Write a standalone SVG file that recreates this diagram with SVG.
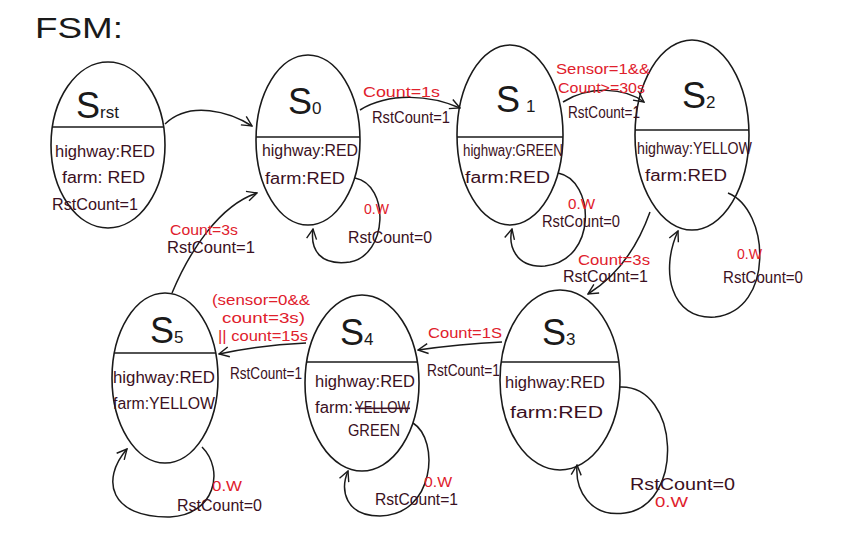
<svg xmlns="http://www.w3.org/2000/svg" width="844" height="534" viewBox="0 0 844 534">
<style>
.st{fill:none;stroke:#1a1a1a;stroke-width:1.6}
.cn{fill:none;stroke:#1a1a1a;stroke-width:1.5;marker-end:url(#ah)}
.nm{font-family:"Liberation Sans",sans-serif;fill:#1a1a1a}
.t{font-family:"Liberation Sans",sans-serif;font-size:16px;fill:#3a1022}
.r{font-family:"Liberation Sans",sans-serif;font-size:14px;fill:#e0202c}
.big{font-size:36px}
.sub{font-size:17px}
</style>
<defs>
<marker id="ah" viewBox="0 0 12 12" refX="11" refY="6" markerWidth="12" markerHeight="12" markerUnits="userSpaceOnUse" orient="auto">
<path d="M1,1 L11,6 L1,11" fill="none" stroke="#1a1a1a" stroke-width="1.4"/>
</marker>
</defs>
<rect width="844" height="534" fill="#ffffff"/>
<text x="35" y="38" class="nm" font-size="30" textLength="88" lengthAdjust="spacingAndGlyphs">FSM:</text>

<g id="Srst">
<ellipse cx="108" cy="145" rx="57" ry="83" class="st"/>
<line x1="52" y1="127" x2="164" y2="127" class="st"/>
<text x="76" y="118" class="nm"><tspan class="big">S</tspan><tspan class="sub">rst</tspan></text>
<text x="55" y="157" class="t" textLength="100" lengthAdjust="spacingAndGlyphs">highway:RED</text>
<text x="62" y="183" class="t" textLength="83" lengthAdjust="spacingAndGlyphs">farm: RED</text>
<text x="52" y="210" class="t" textLength="86" lengthAdjust="spacingAndGlyphs">RstCount=1</text>
</g>

<g id="S0">
<ellipse cx="308" cy="140" rx="52" ry="85" class="st"/>
<line x1="256" y1="137" x2="360" y2="137" class="st"/>
<text x="288" y="114" class="nm"><tspan class="big">S</tspan><tspan class="sub">0</tspan></text>
<text x="262" y="156" class="t" textLength="96" lengthAdjust="spacingAndGlyphs">highway:RED</text>
<text x="265" y="184" class="t" textLength="80" lengthAdjust="spacingAndGlyphs">farm:RED</text>
</g>

<g id="S1">
<ellipse cx="510" cy="135" rx="53" ry="90" class="st"/>
<line x1="457" y1="137" x2="563" y2="137" class="st"/>
<text x="496" y="112" class="nm"><tspan class="big">S</tspan><tspan class="sub" dx="6">1</tspan></text>
<text x="463" y="156" class="t" textLength="100" lengthAdjust="spacingAndGlyphs">highway:GREEN</text>
<text x="465" y="183" class="t" textLength="85" lengthAdjust="spacingAndGlyphs">farm:RED</text>
</g>

<g id="S2">
<ellipse cx="692" cy="135" rx="57" ry="95" class="st"/>
<line x1="635" y1="130" x2="749" y2="130" class="st"/>
<text x="682" y="108" class="nm"><tspan class="big">S</tspan><tspan class="sub">2</tspan></text>
<text x="637" y="154" class="t" textLength="115" lengthAdjust="spacingAndGlyphs">highway:YELLOW</text>
<text x="645" y="181" class="t" textLength="82" lengthAdjust="spacingAndGlyphs">farm:RED</text>
</g>

<g id="S3">
<ellipse cx="560" cy="380" rx="60" ry="90" class="st"/>
<line x1="501" y1="362" x2="619" y2="362" class="st"/>
<text x="542" y="345" class="nm"><tspan class="big">S</tspan><tspan class="sub">3</tspan></text>
<text x="505" y="388" class="t" textLength="100" lengthAdjust="spacingAndGlyphs">highway:RED</text>
<text x="510" y="418" class="t" textLength="93" lengthAdjust="spacingAndGlyphs">farm:RED</text>
</g>

<g id="S4">
<ellipse cx="362" cy="383" rx="57" ry="88" class="st"/>
<line x1="307" y1="362" x2="417" y2="362" class="st"/>
<text x="340" y="345" class="nm"><tspan class="big">S</tspan><tspan class="sub">4</tspan></text>
<text x="315" y="387" class="t" textLength="100" lengthAdjust="spacingAndGlyphs">highway:RED</text>
<text x="315" y="413" class="t" textLength="38" lengthAdjust="spacingAndGlyphs">farm:</text>
<text x="355" y="413" class="t" textLength="55" lengthAdjust="spacingAndGlyphs" text-decoration="line-through">YELLOW</text>
<text x="348" y="436" class="t" textLength="52" lengthAdjust="spacingAndGlyphs">GREEN</text>
</g>

<g id="S5">
<ellipse cx="165" cy="378" rx="53" ry="85" class="st"/>
<line x1="114" y1="353" x2="216" y2="353" class="st"/>
<text x="150" y="343" class="nm"><tspan class="big">S</tspan><tspan class="sub">5</tspan></text>
<text x="113" y="383" class="t" textLength="102" lengthAdjust="spacingAndGlyphs">highway:RED</text>
<text x="113" y="409" class="t" textLength="102" lengthAdjust="spacingAndGlyphs">farm:YELLOW</text>
</g>

<g id="connectors">
<path d="M165,124 C190,100 230,112 252,126" class="cn"/>
<path d="M360,110 C390,92 430,95 460,108" class="cn"/>
<path d="M563,102 C590,85 625,88 644,102" class="cn"/>
<path d="M650,212 Q630,268 588,294" class="cn"/>
<path d="M502,342 Q460,344 418,350" class="cn"/>
<path d="M306,343 Q260,345 219,354" class="cn"/>
<path d="M172,293 C190,250 220,205 257,193" class="cn"/>
<path d="M355,178 C390,185 388,255 350,262 C320,266 310,250 313,229" class="cn"/>
<path d="M558,173 C595,180 598,260 545,266 C515,268 508,245 512,229" class="cn"/>
<path d="M728,193 C770,210 775,310 715,317 C670,320 660,270 678,231" class="cn"/>
<path d="M620,387 C680,385 685,505 625,513 C590,518 575,490 577,465" class="cn"/>
<path d="M413,423 C440,440 435,515 380,516 C345,516 340,490 348,471" class="cn"/>
<path d="M202,447 C225,470 215,515 170,517 C110,518 100,480 127,449" class="cn"/>
</g>

<g id="labels">
<text x="363" y="97" class="r" textLength="77" lengthAdjust="spacingAndGlyphs">Count=1s</text>
<text x="372" y="123" class="t" textLength="78" lengthAdjust="spacingAndGlyphs">RstCount=1</text>
<text x="364" y="214" class="r" textLength="25" lengthAdjust="spacingAndGlyphs">0.W</text>
<text x="348" y="243" class="t" textLength="84" lengthAdjust="spacingAndGlyphs">RstCount=0</text>

<text x="556" y="74" class="r" textLength="94" lengthAdjust="spacingAndGlyphs">Sensor=1&amp;&amp;</text>
<text x="558" y="93" class="r" textLength="87" lengthAdjust="spacingAndGlyphs">Count&gt;=30s</text>
<text x="568" y="118" class="t" textLength="72" lengthAdjust="spacingAndGlyphs">RstCount=1</text>
<text x="568" y="209" class="r" textLength="27" lengthAdjust="spacingAndGlyphs">0.W</text>
<text x="542" y="227" class="t" textLength="78" lengthAdjust="spacingAndGlyphs">RstCount=0</text>

<text x="737" y="259" class="r" textLength="25" lengthAdjust="spacingAndGlyphs">0.W</text>
<text x="723" y="283" class="t" textLength="80" lengthAdjust="spacingAndGlyphs">RstCount=0</text>
<text x="578" y="265" class="r" textLength="72" lengthAdjust="spacingAndGlyphs">Count=3s</text>
<text x="563" y="282" class="t" textLength="85" lengthAdjust="spacingAndGlyphs">RstCount=1</text>

<text x="630" y="490" class="t" textLength="105" lengthAdjust="spacingAndGlyphs">RstCount=0</text>
<text x="655" y="507" class="r" textLength="33" lengthAdjust="spacingAndGlyphs">0.W</text>
<text x="428" y="338" class="r" textLength="74" lengthAdjust="spacingAndGlyphs">Count=1S</text>
<text x="427" y="376" class="t" textLength="73" lengthAdjust="spacingAndGlyphs">RstCount=1</text>

<text x="424" y="487" class="r" textLength="28" lengthAdjust="spacingAndGlyphs">0.W</text>
<text x="375" y="505" class="t" textLength="83" lengthAdjust="spacingAndGlyphs">RstCount=1</text>

<text x="212" y="305" class="r" textLength="98" lengthAdjust="spacingAndGlyphs">(sensor=0&amp;&amp;</text>
<text x="222" y="323" class="r" textLength="83" lengthAdjust="spacingAndGlyphs">count=3s)</text>
<text x="218" y="341" class="r" textLength="90" lengthAdjust="spacingAndGlyphs">|| count=15s</text>
<text x="230" y="379" class="t" textLength="72" lengthAdjust="spacingAndGlyphs">RstCount=1</text>

<text x="212" y="491" class="r" textLength="30" lengthAdjust="spacingAndGlyphs">0.W</text>
<text x="177" y="511" class="t" textLength="85" lengthAdjust="spacingAndGlyphs">RstCount=0</text>
<text x="170" y="235" class="r" textLength="68" lengthAdjust="spacingAndGlyphs">Count=3s</text>
<text x="167" y="253" class="t" textLength="88" lengthAdjust="spacingAndGlyphs">RstCount=1</text>
</g>
</svg>
